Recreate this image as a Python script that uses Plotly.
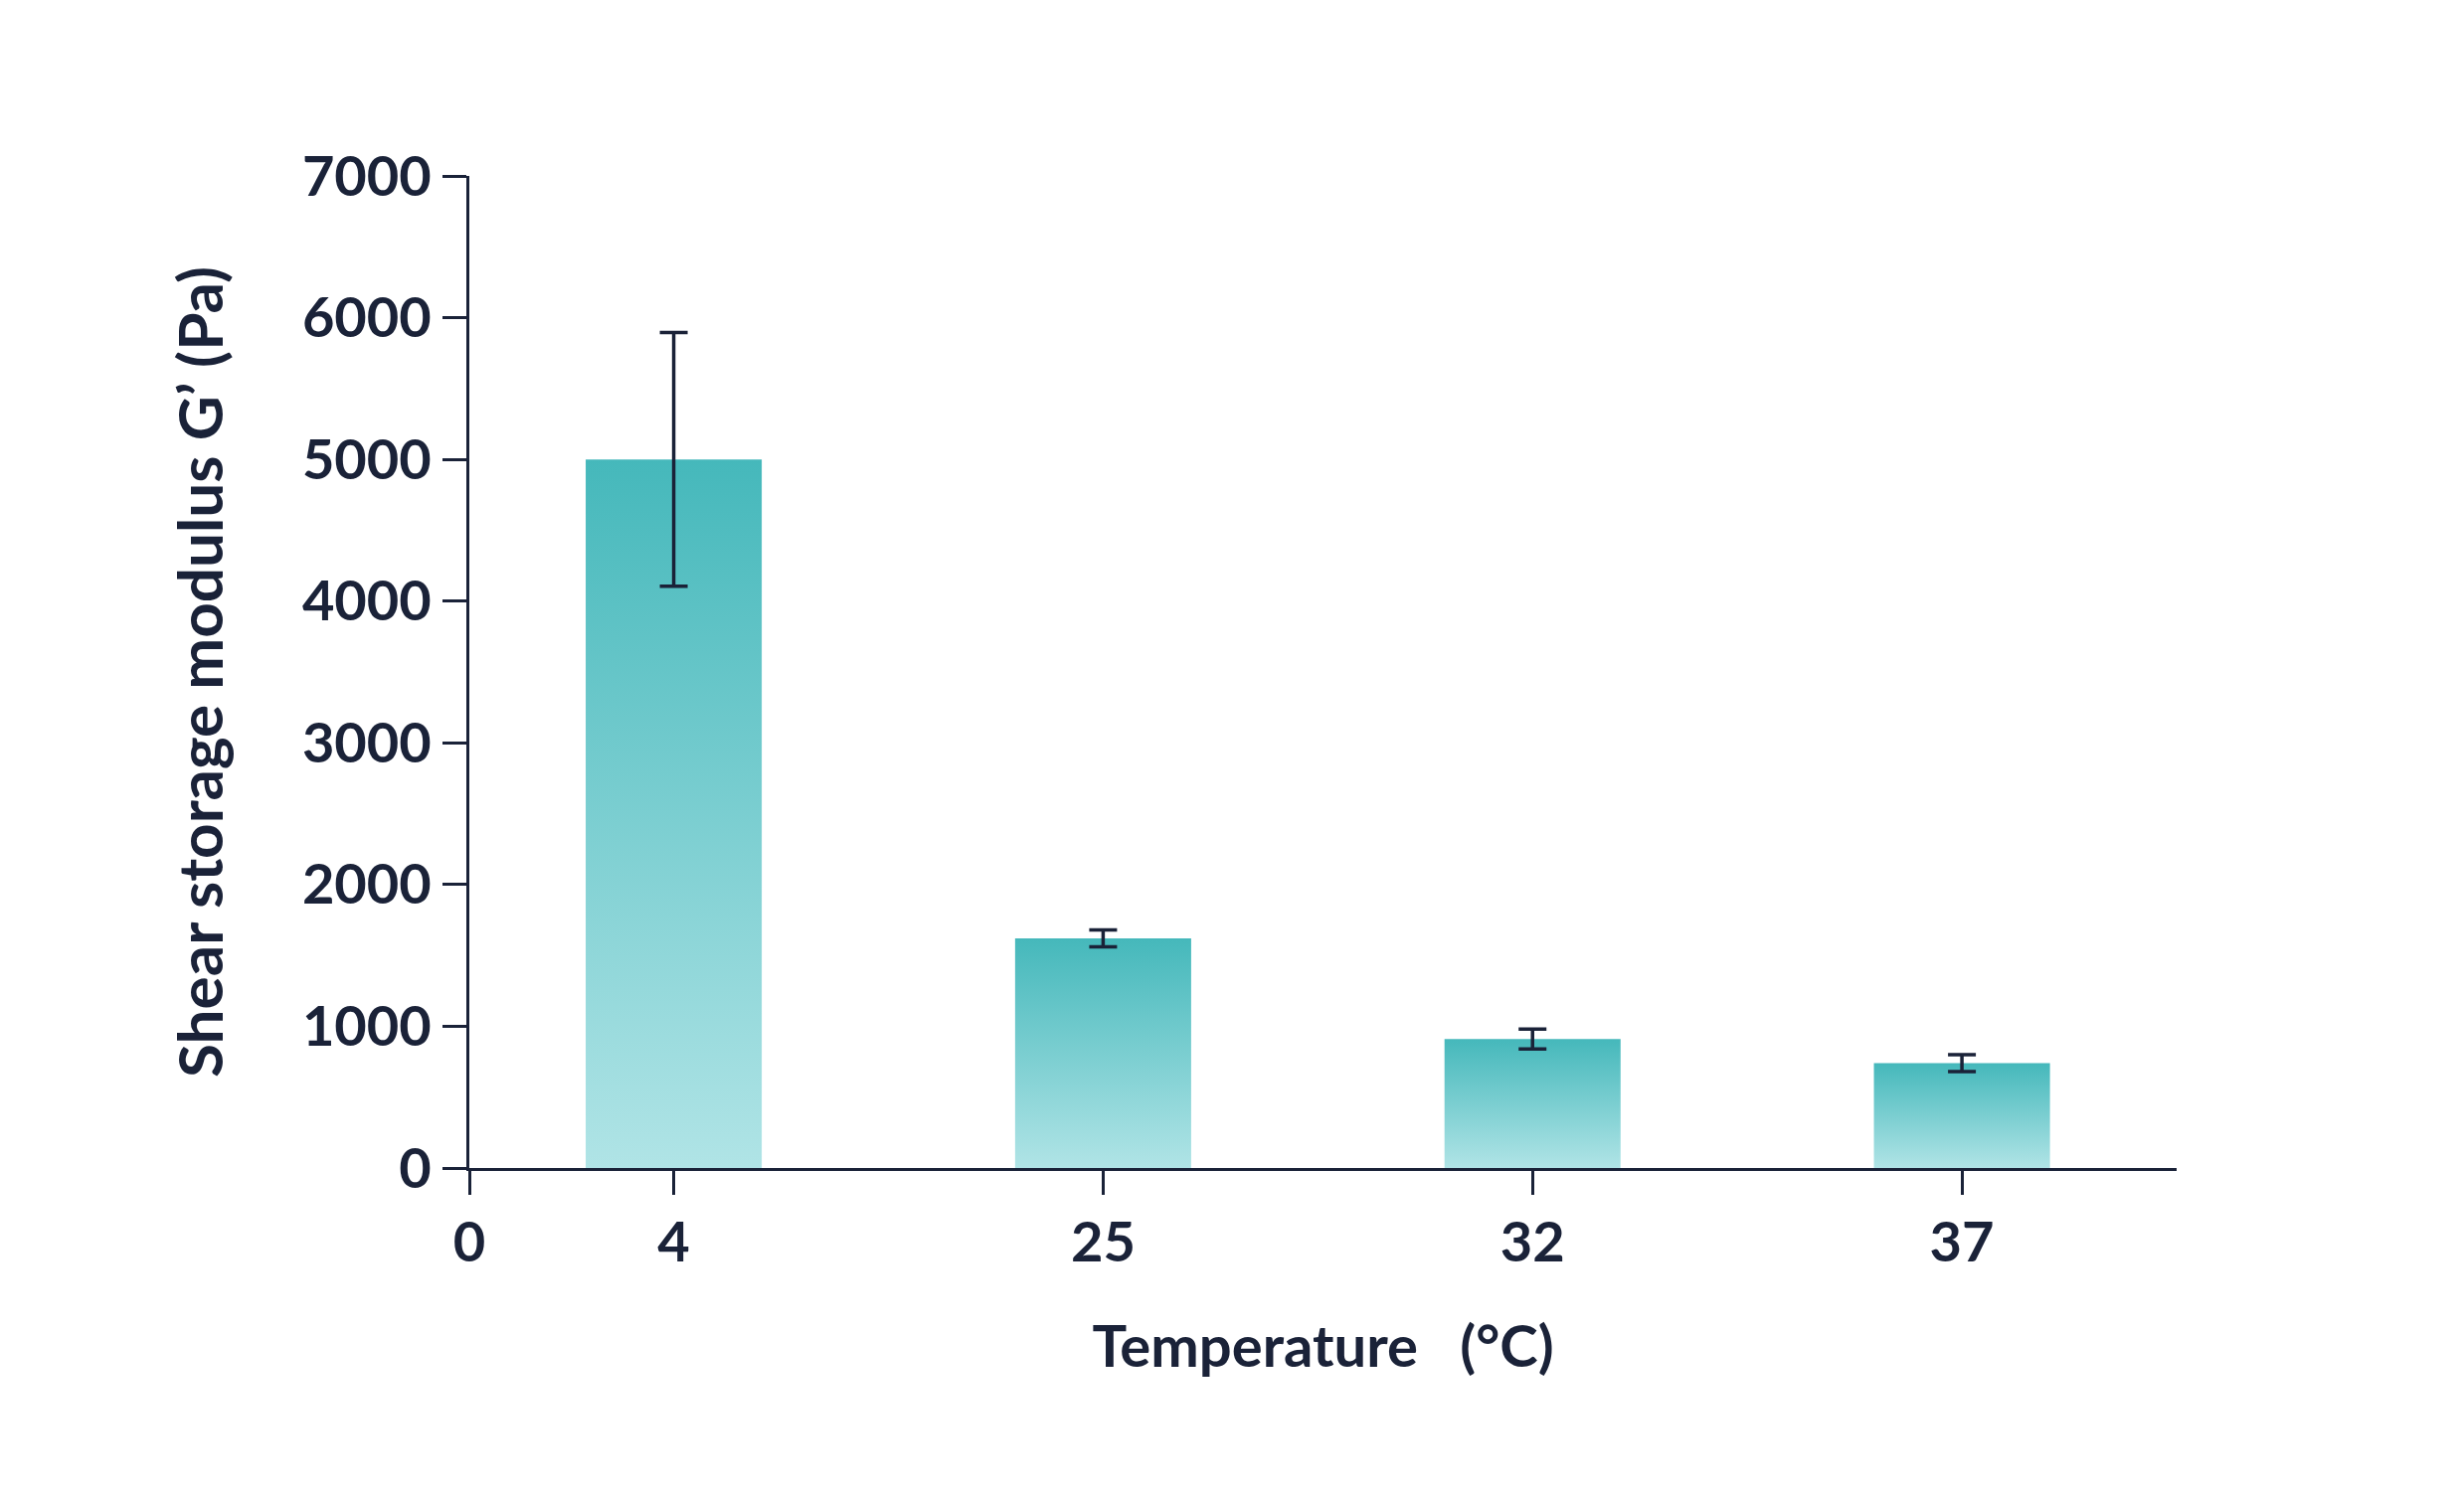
import plotly.graph_objects as go

temps = ["4", "25", "32", "37"]
modulus = [5000, 1620, 910, 740]
errors = [895, 60, 70, 60]
tick_labels = ["0", "4", "25", "32", "37"]

ink = "#1a2238"
font = "Lato"
positions = [1, 2, 3, 4]
half = 0.205

fig = go.Figure()

for x, g in zip(positions, modulus):
    fig.add_trace(
        go.Scatter(
            x=[x - half, x + half, x + half, x - half, x - half],
            y=[0, 0, g, g, 0],
            mode="lines",
            line={"width": 0},
            fill="toself",
            fillgradient={
                "type": "vertical",
                "colorscale": [[0, "#b0e4e6"], [1, "#45b8bb"]],
            },
            hoverinfo="skip",
            showlegend=False,
        )
    )

fig.add_trace(
    go.Scatter(
        x=positions,
        y=modulus,
        mode="markers",
        marker={"size": 1, "color": "rgba(0,0,0,0)"},
        error_y={"type": "data", "array": errors, "color": ink,
                 "thickness": 3.5, "width": 14},
        text=temps,
        showlegend=False,
    )
)

fig.update_layout(
    width=2478,
    height=1512,
    paper_bgcolor="white",
    plot_bgcolor="white",
    margin={"l": 464, "r": 297, "t": 169, "b": 345},
    font={"family": font, "color": ink, "size": 56},
    xaxis={
        "range": [0.524, 4.5],
        "tickvals": [0.524] + positions,
        "ticktext": tick_labels,
        "showgrid": False,
        "zeroline": False,
        "showline": True,
        "linecolor": ink,
        "linewidth": 3,
        "ticks": "outside",
        "ticklen": 24,
        "tickwidth": 3,
        "tickcolor": ink,
        "tickfont": {"size": 56, "family": font, "weight": "bold"},
        "title": {"text": "<b>Temperature   (°C)</b>", "standoff": 55,
                  "font": {"size": 58}},
    },
    yaxis={
        "range": [0, 7000],
        "tickvals": [0, 1000, 2000, 3000, 4000, 5000, 6000, 7000],
        "showgrid": False,
        "zeroline": False,
        "showline": True,
        "linecolor": ink,
        "linewidth": 3,
        "ticks": "outside",
        "ticklen": 24,
        "tickwidth": 3,
        "tickcolor": ink,
        "tickfont": {"size": 56, "family": font, "weight": "bold"},
        "title": {"text": "<b>Shear storage modulus G’ (Pa)</b>", "standoff": 60,
                  "font": {"size": 62}},
    },
)

fig.write_html("out.html")
